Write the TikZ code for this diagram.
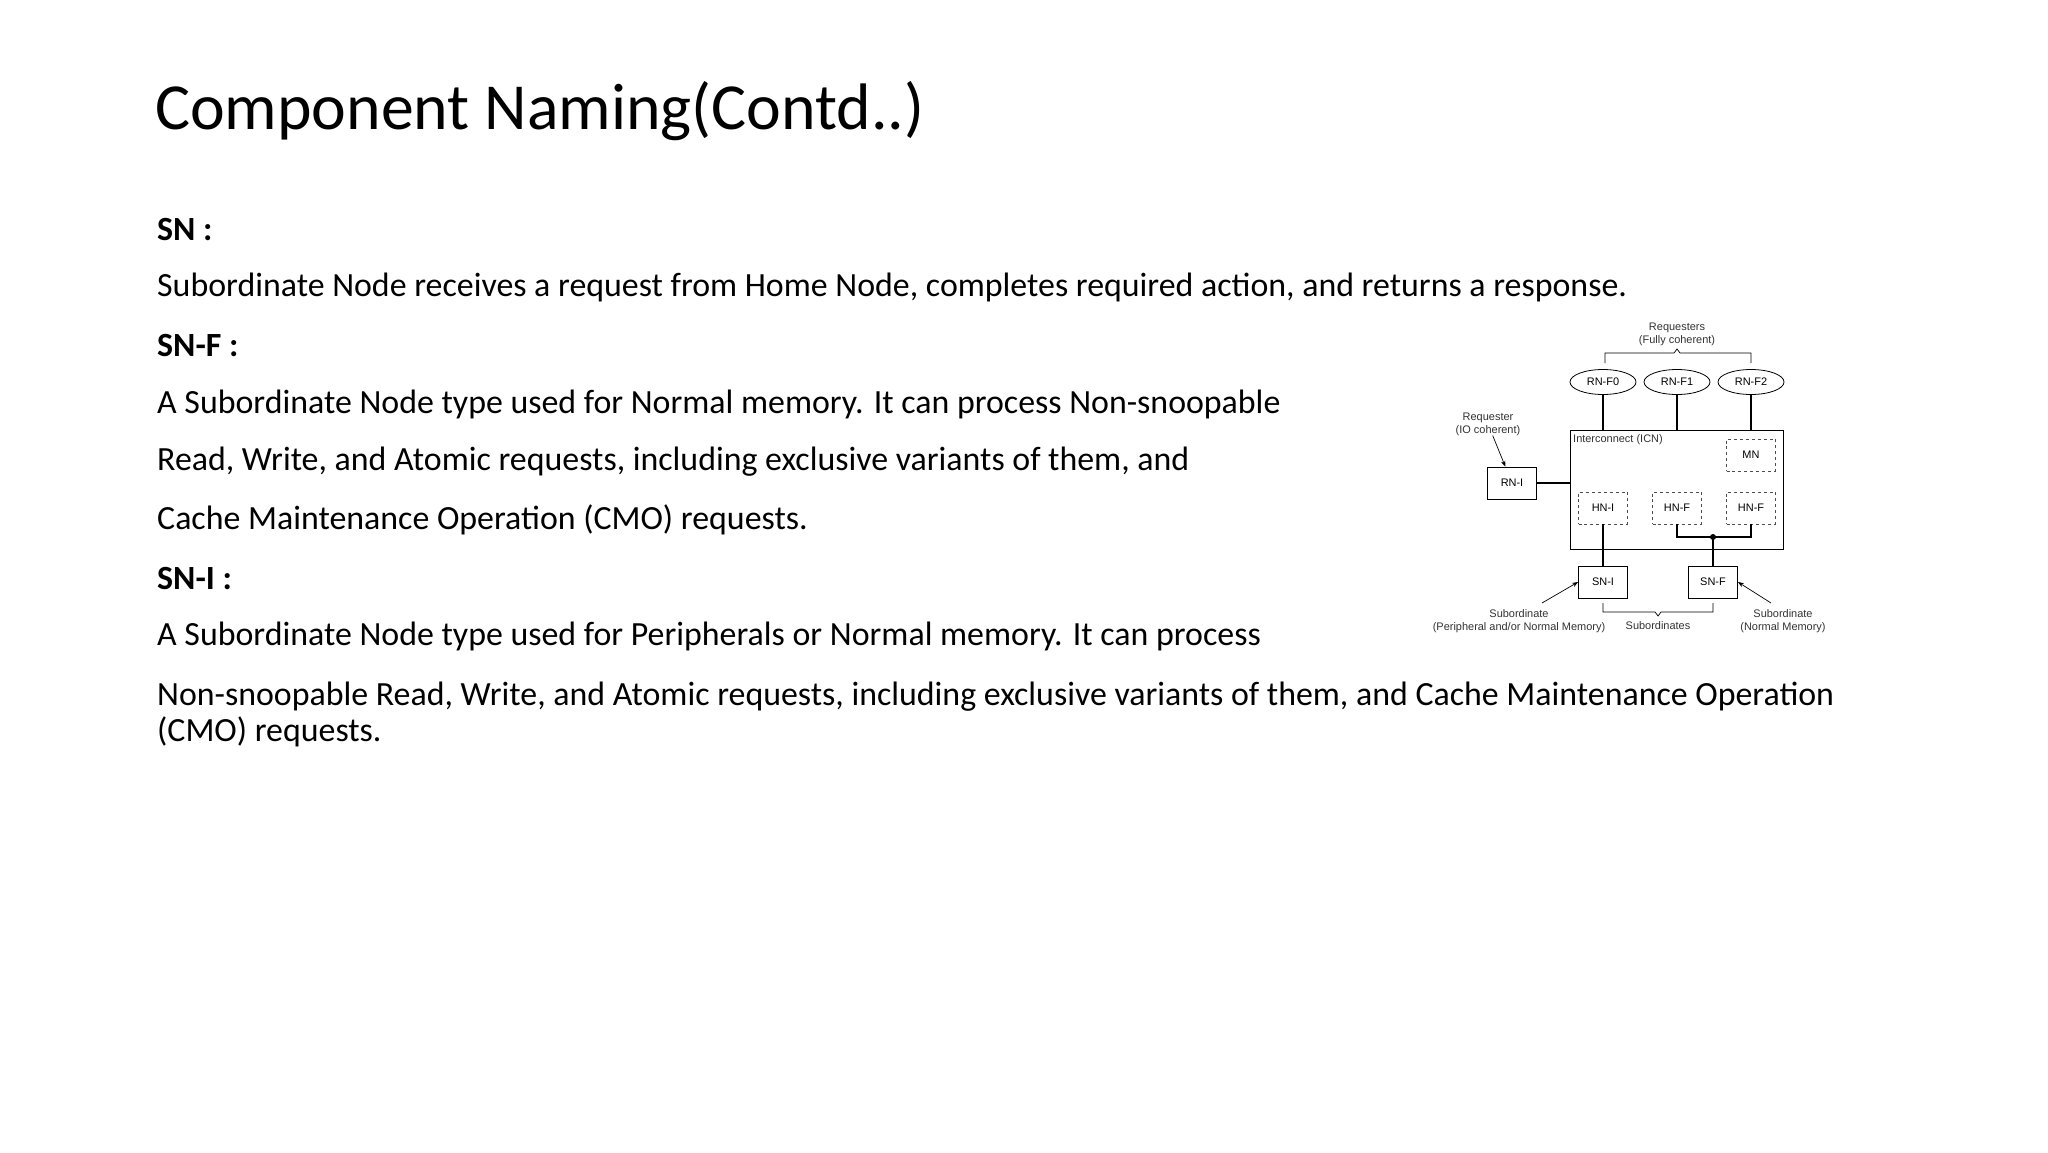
\documentclass[tikz,border=0pt]{standalone}
\usepackage{fontspec}
\setmainfont{Carlito}
\newfontfamily\diag{Liberation Sans}
\usetikzlibrary{shapes.geometric,decorations.pathreplacing,arrows.meta}
\begin{document}
\begin{tikzpicture}[x=1bp,y=-1bp,
  body/.style={anchor=west,inner sep=0pt,font=\fontsize{34}{40}\selectfont},
  lbl/.style={font=\diag\fontsize{11}{13}\selectfont,text=black!80,align=center,inner sep=0pt},
  ell/.style={ellipse,draw,line width=0.8pt,minimum width=66bp,minimum height=25bp,inner sep=0pt,font=\diag\fontsize{11}{13}\selectfont},
  sbox/.style={draw,line width=0.8pt,minimum width=49bp,minimum height=32bp,inner sep=0pt,font=\diag\fontsize{11}{13}\selectfont},
  dbox/.style={sbox,dashed,draw=black!70},
  wire/.style={line width=2pt},
  arr/.style={-{Stealth[length=6pt]},line width=0.7pt}]
\useasboundingbox (0,0) rectangle (2048,1152);
\fill[white] (0,0) rectangle (2048,1152);
\node[anchor=west,inner sep=0pt,font=\fontsize{66}{70}\selectfont\addfontfeatures{}] (title) at (155,111) {Component Naming(Contd..)};
\node[body] (t1) at (157,230) {\bfseries SN :};
\node[body] (t2) at (157,287) {Subordinate Node receives a request from Home Node, completes required action, and returns a response.};
\node[body] (t3) at (157,346) {\bfseries SN-F :};
\node[body] (t4) at (157,404) {A Subordinate Node type used for Normal memory. It can process Non-snoopable};
\node[body] (t5) at (157,462) {Read, Write, and Atomic requests, including exclusive variants of them, and};
\node[body] (t6) at (157,520) {Cache Maintenance Operation (CMO) requests.};
\node[body] (t7) at (157,579) {\bfseries SN-I :};
\node[body] (t8) at (157,636) {A Subordinate Node type used for Peripherals or Normal memory. It can process};
\node[body,align=left,anchor=north west] (t9) at (157,682) {Non-snoopable Read, Write, and Atomic requests, including exclusive variants of them, and Cache Maintenance Operation\\[-4bp](CMO) requests.};
% diagram
\node[draw,line width=0.8pt,minimum width=213bp,minimum height=119bp,inner sep=0pt] (icn) at (1676.5,489.5) {};
\node[lbl,anchor=north west] (icnl) at (1573,434) {Interconnect (ICN)};
\node[ell] (f0) at (1603,382) {RN-F0};
\node[ell] (f1) at (1677,382) {RN-F1};
\node[ell] (f2) at (1751,382) {RN-F2};
\node[dbox] (mn) at (1751,455) {MN};
\node[dbox] (hni) at (1603,508) {HN-I};
\node[dbox] (hnf1) at (1677,508) {HN-F};
\node[dbox] (hnf2) at (1751,508) {HN-F};
\node[sbox] (rni) at (1512,483) {RN-I};
\node[sbox] (sni) at (1603,582) {SN-I};
\node[sbox] (snf) at (1713,582) {SN-F};
\coordinate (j) at (1713,537);
\draw[wire] (f0) -- (f0|-icn.north);
\draw[wire] (f1) -- (f1|-icn.north);
\draw[wire] (f2) -- (f2|-icn.north);
\draw[wire] (rni) -- (icn.west|-rni);
\draw[wire] (hni) -- (sni);
\draw[wire] (hnf1.south) |- (j) -| (hnf2.south);
\draw[wire] (j) -- (snf);
\fill (j) circle (3bp);
\node[lbl] (req) at (1677,334) {Requesters\\(Fully coherent)};
\draw[line width=0.7pt] (1605,363) -- (1605,353) -- (1674,353) -- (1677,349) -- (1680,353) -- (1751,353) -- (1751,363);
\node[lbl] (reqio) at (1488,424) {Requester\\(IO coherent)};
\draw[arr] (reqio) -- (rni);
\node[lbl] (subp) at (1519,621) {Subordinate\\(Peripheral and/or Normal Memory)};
\draw[arr] (1542,603) -- (sni.west);
\node[lbl] (subn) at (1783,621) {Subordinate\\(Normal Memory)};
\draw[arr] (1771,603) -- (snf.east);
\draw[line width=0.7pt] (1603,603) -- (1603,612) -- (1655,612) -- (1658,616) -- (1661,612) -- (1713,612) -- (1713,603);
\node[lbl] (subs) at (1658,626) {Subordinates};
\end{tikzpicture}
\end{document}
